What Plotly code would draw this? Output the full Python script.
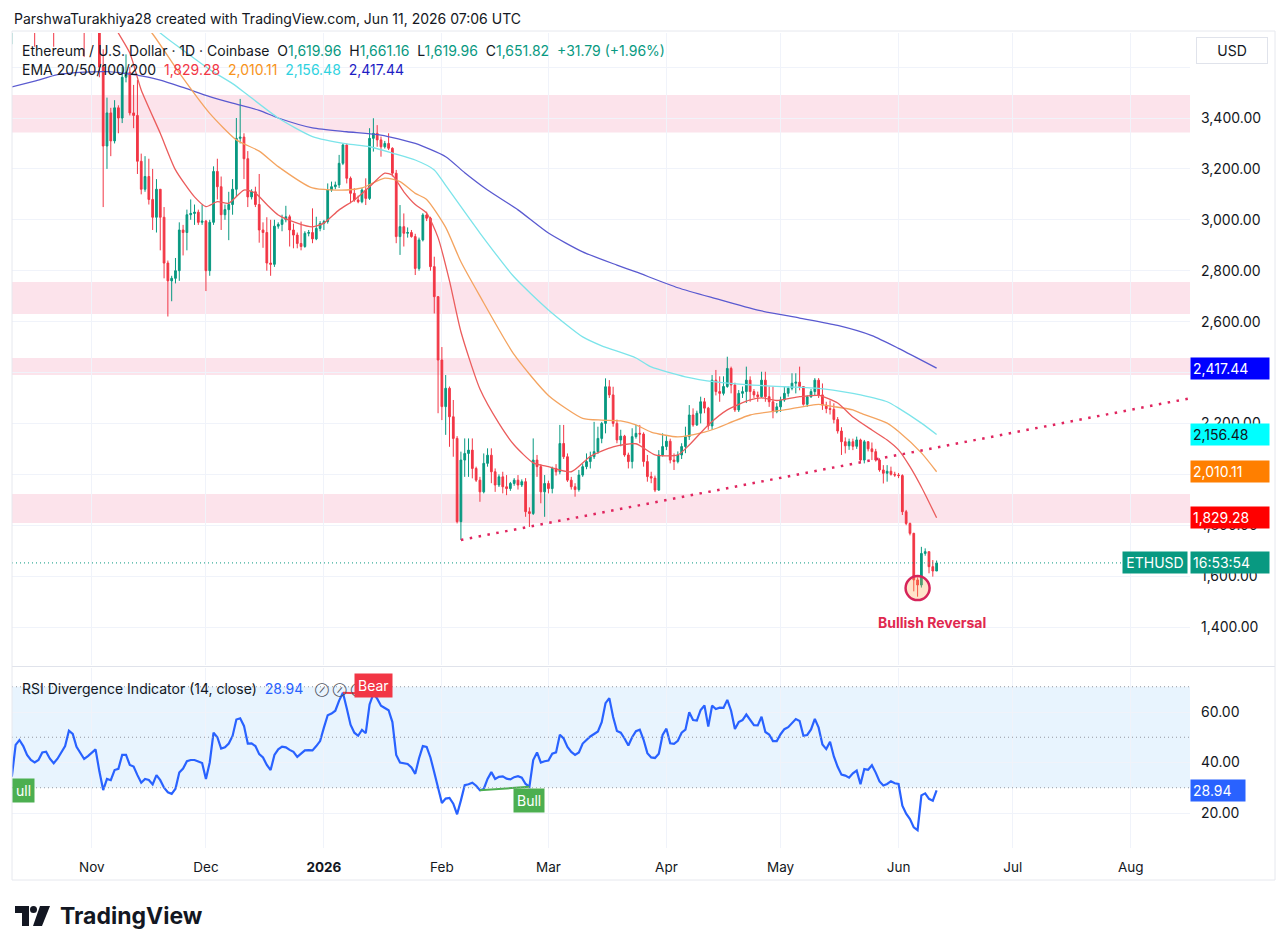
import plotly.graph_objects as go
import pandas as pd

# ---------------- data: ETH/USD daily candles (Coinbase) ----------------
first_day = "2025-10-11"
opens = [
    # Oct 11-31
    3760, 3840, 4150, 4245, 4130, 3990, 3890, 3830, 3885, 3985, 3980, 3880, 3800, 3855, 3935, 3950, 4160, 4120, 3980, 3900, 3810,
    # Nov
    3850, 3875, 3890, 3600, 3290, 3420, 3310, 3440, 3400, 3560, 3580, 3420, 3410, 3230, 3120, 3170, 3080, 3010, 3120, 3010,
    2830, 2760, 2770, 2800, 2960, 2950, 3020, 3025, 3030, 2990,
    # Dec
    2995, 2800, 2990, 3190, 3130, 3020, 3040, 3060, 3120, 3320, 3325, 3240, 3090, 3110, 3060, 2960, 2950, 2830, 2825, 2975,
    2982, 3000, 3012, 2960, 2940, 2907, 2895, 2947, 2950, 2925, 2966,
    # Jan
    2986, 2993, 3117, 3130, 3137, 3222, 3294, 3163, 3104, 3078, 3071, 3117, 3084, 3320, 3340, 3314, 3287, 3300, 3281, 3183,
    2934, 2973, 2947, 2950, 2934, 2809, 2921, 3019, 3006, 2816, 2698,
    # Feb
    2449, 2266, 2338, 2226, 2141, 1814, 2056, 2082, 2095, 2023, 1977, 1931, 2043, 2075, 2010, 1958, 1990, 1951, 1944, 1964,
    1977, 1958, 1971, 1853, 1846, 2056, 2030, 1931,
    # Mar
    1964, 1944, 2023, 2010, 2121, 2069, 1977, 1951, 1940, 1997, 2030, 2050, 2069, 2089, 2141, 2200, 2344, 2312, 2200, 2135,
    2150, 2076, 2050, 2148, 2161, 2158, 2050, 1991, 1985, 1938, 2076,
    # Apr
    2109, 2130, 2056, 2050, 2076, 2109, 2148, 2233, 2194, 2240, 2285, 2260, 2190, 2370, 2325, 2318, 2345, 2416, 2351, 2253,
    2318, 2325, 2370, 2325, 2312, 2305, 2370, 2305, 2285, 2246,
    # May
    2265, 2292, 2318, 2338, 2358, 2362, 2345, 2275, 2305, 2325, 2370, 2312, 2272, 2258, 2255, 2215, 2170, 2128, 2112, 2128,
    2110, 2135, 2056, 2128, 2100, 2089, 2056, 2017, 2004, 2012, 2000,
    # Jun 1-11
    1997, 1995, 1853, 1807, 1768, 1585, 1565, 1689, 1696, 1637, 1619.96,
]
highs = [
    3880, 4180, 4290, 4260, 4210, 4100, 3960, 3900, 4030, 4090, 4110, 3900, 3900, 3990, 3960, 4200, 4250, 4160, 4030, 3920, 3900,
    3910, 3920, 3900, 3670, 3480, 3440, 3470, 3450, 3600, 3650, 3600, 3530, 3550, 3260, 3250, 3240, 3200, 3160, 3120, 3050,
    2840, 2780, 2850, 2990, 2980, 3040, 3080, 3060, 3040, 3060,
    3000, 3000, 3210, 3240, 3170, 3060, 3110, 3160, 3400, 3475, 3340, 3270, 3120, 3130, 3180, 2990, 3010, 3000, 3000, 2990,
    3020, 3055, 3020, 2985, 2950, 2993, 2955, 2960, 3045, 3012, 2995,
    3000, 3143, 3150, 3150, 3255, 3300, 3300, 3170, 3124, 3095, 3125, 3163, 3360, 3399, 3372, 3327, 3310, 3340, 3285, 3196,
    3058, 3025, 2970, 2960, 2945, 2930, 3026, 3032, 3012, 2855, 2700,
    2500, 2390, 2345, 2292, 2150, 2089, 2141, 2141, 2141, 2030, 1990, 2082, 2102, 2102, 2023, 2000, 2010, 1997, 1970, 1985,
    1997, 1980, 1985, 1870, 2141, 2076, 2040, 1997,
    1975, 2030, 2040, 2194, 2194, 2082, 1990, 1965, 2017, 2040, 2082, 2089, 2206, 2187, 2206, 2377, 2370, 2344, 2215, 2175,
    2155, 2085, 2181, 2194, 2194, 2165, 2076, 2010, 1995, 2095, 2161,
    2150, 2140, 2082, 2090, 2122, 2187, 2272, 2259, 2250, 2305, 2300, 2265, 2390, 2410, 2385, 2385, 2462, 2423, 2360, 2331,
    2345, 2423, 2385, 2335, 2325, 2403, 2403, 2345, 2345, 2280,
    2305, 2345, 2345, 2397, 2397, 2423, 2345, 2310, 2335, 2378, 2378, 2357, 2285, 2290, 2279, 2225, 2185, 2145, 2140, 2140,
    2148, 2140, 2135, 2130, 2125, 2100, 2063, 2036, 2036, 2030, 2010,
    2005, 2000, 1860, 1810, 1770, 1595, 1715, 1709, 1696, 1663, 1661.16,
]
lows = [
    3690, 3800, 4050, 3900, 3940, 3880, 3680, 3820, 3850, 3900, 3780, 3680, 3780, 3840, 3890, 3940, 4100, 3930, 3870, 3640, 3760,
    3840, 3850, 3560, 3050, 3200, 3250, 3300, 3340, 3380, 3540, 3410, 3360, 3180, 3100, 3110, 3060, 2960, 2950, 2880, 2770,
    2620, 2680, 2750, 2760, 2860, 2880, 3000, 2980, 2980, 2980,
    2720, 2780, 2980, 3080, 2960, 3000, 2920, 3020, 3090, 3300, 3160, 3050, 3080, 3050, 2910, 2890, 2800, 2780, 2815, 2965,
    2955, 2990, 2895, 2888, 2888, 2880, 2890, 2935, 2908, 2920, 2955,
    2960, 2985, 3110, 3120, 3125, 3215, 3143, 3065, 3071, 3065, 3065, 3058, 3078, 3268, 3287, 3248, 3280, 3274, 3170, 2908,
    2862, 2895, 2930, 2930, 2783, 2800, 2915, 2995, 2800, 2632, 2240,
    2213, 2155, 2108, 2069, 1807, 1742, 1990, 1990, 1984, 1970, 1892, 1925, 2030, 1965, 1931, 1950, 1925, 1918, 1935, 1955,
    1940, 1950, 1833, 1793, 1840, 1990, 1886, 1833,
    1925, 1925, 1995, 2000, 2060, 1970, 1940, 1912, 1932, 1990, 2020, 2023, 2060, 2080, 2122, 2161, 2300, 2187, 2122, 2110,
    2069, 2023, 2023, 2140, 2122, 2030, 1971, 1965, 1930, 1935, 2070,
    2095, 2043, 2017, 2043, 2060, 2083, 2135, 2187, 2190, 2200, 2240, 2175, 2175, 2310, 2285, 2310, 2340, 2318, 2245, 2245,
    2300, 2280, 2285, 2300, 2285, 2300, 2285, 2265, 2220, 2240,
    2245, 2285, 2305, 2330, 2318, 2330, 2270, 2265, 2300, 2310, 2300, 2253, 2240, 2235, 2200, 2160, 2076, 2082, 2096, 2095,
    2100, 2050, 2043, 2090, 2056, 2050, 2010, 1964, 1971, 1995, 1990,
    1985, 1840, 1800, 1760, 1540, 1519, 1555, 1680, 1611, 1598, 1619.96,
]
closes = [
    3840, 4150, 4245, 4130, 3990, 3890, 3830, 3885, 3985, 3980, 3880, 3800, 3855, 3935, 3950, 4160, 4120, 3980, 3900, 3810, 3850,
    3875, 3890, 3600, 3290, 3420, 3310, 3440, 3400, 3560, 3580, 3420, 3410, 3230, 3120, 3170, 3080, 3010, 3120, 3010, 2830,
    2760, 2770, 2800, 2960, 2950, 3020, 3025, 3030, 2990, 2995,
    2800, 2990, 3190, 3130, 3020, 3040, 3060, 3120, 3320, 3325, 3240, 3090, 3110, 3060, 2960, 2950, 2830, 2825, 2975, 2982,
    3000, 3012, 2960, 2940, 2907, 2895, 2947, 2950, 2925, 2966, 2986,
    2993, 3117, 3130, 3137, 3222, 3294, 3163, 3104, 3078, 3071, 3117, 3084, 3320, 3340, 3314, 3287, 3300, 3281, 3183, 2934,
    2973, 2947, 2950, 2934, 2809, 2921, 3019, 3006, 2816, 2698, 2449,
    2266, 2338, 2226, 2141, 1814, 2056, 2082, 2095, 2023, 1977, 1931, 2043, 2075, 2010, 1958, 1990, 1951, 1944, 1964, 1977,
    1958, 1971, 1853, 1846, 2056, 2030, 1931, 1964,
    1944, 2023, 2010, 2121, 2069, 1977, 1951, 1940, 1997, 2030, 2050, 2069, 2089, 2141, 2200, 2344, 2312, 2200, 2135, 2150,
    2076, 2050, 2148, 2161, 2158, 2050, 1991, 1985, 1938, 2076, 2109,
    2130, 2056, 2050, 2076, 2109, 2148, 2233, 2194, 2240, 2285, 2260, 2190, 2370, 2325, 2318, 2345, 2416, 2351, 2253, 2318,
    2325, 2370, 2325, 2312, 2305, 2370, 2305, 2285, 2246, 2265,
    2292, 2318, 2338, 2358, 2362, 2345, 2275, 2305, 2325, 2370, 2312, 2272, 2258, 2255, 2215, 2170, 2128, 2112, 2128, 2110,
    2135, 2056, 2128, 2100, 2089, 2056, 2017, 2004, 2012, 2000, 1997,
    1995, 1853, 1807, 1768, 1585, 1565, 1689, 1696, 1637, 1620.03, 1651.82,
]

# ---------------- RSI (14, close), one value per day from first_day ----------------
rsi_vals = [
    34.4, 47.0, 48.9, 46.5, 43.0, 41.0, 40.0, 41.0, 44.0, 44.3, 41.5, 39.7, 41.5, 44.3, 46.5, 52.6, 51.3, 46.2, 44.0, 41.4, 42.5,
    43.7, 45.2, 36.5, 29.1, 33.5, 33.0, 37.0, 37.5, 43.0, 43.0, 39.0, 38.4, 35.0, 32.0, 33.5, 33.1, 31.3, 35.0, 33.0, 30.0,
    28.2, 27.6, 29.6, 36.0, 37.6, 40.5, 41.0, 41.0, 40.4, 39.8,
    33.5, 40.0, 51.8, 50.0, 45.5, 46.0, 47.5, 50.5, 57.0, 57.5, 54.5, 47.5, 47.6, 46.5, 43.3, 42.0, 39.0, 37.0, 43.0, 45.2,
    46.3, 46.0, 45.0, 44.2, 42.2, 43.6, 44.8, 44.9, 44.8, 46.5, 48.5,
    53.8, 58.7, 59.4, 60.5, 64.5, 67.6, 61.5, 55.0, 51.8, 50.6, 52.9, 51.6, 63.0, 67.2, 65.3, 62.5, 61.6, 60.7, 56.0, 43.0,
    40.0, 39.7, 39.4, 38.0, 35.5, 41.7, 46.5, 46.2, 42.0, 36.0, 30.0,
    24.0, 25.7, 26.0, 23.7, 19.5, 25.0, 31.0, 31.4, 32.0, 30.8, 29.0, 29.5, 33.5, 36.2, 33.5, 34.3, 34.5, 33.6, 33.3, 34.2,
    34.6, 34.0, 31.5, 30.4, 41.0, 44.0, 40.0, 40.5,
    40.8, 43.5, 44.0, 51.0, 49.5, 46.2, 44.2, 43.0, 44.0, 47.5, 49.1, 50.3, 51.3, 52.3, 56.0, 63.5, 65.5, 58.0, 52.5, 51.8,
    49.5, 46.7, 50.0, 52.4, 53.0, 49.0, 43.7, 42.0, 41.8, 43.5, 50.9,
    53.4, 47.6, 47.4, 48.6, 51.8, 53.0, 59.9, 56.8, 56.6, 60.8, 62.6, 54.2, 62.5, 61.2, 61.7, 61.6, 64.8, 60.5, 53.3, 56.0,
    56.8, 59.0, 56.7, 54.8, 54.7, 58.1, 52.1, 51.1, 48.5, 48.5,
    51.2, 53.2, 54.0, 55.4, 57.2, 56.4, 50.6, 50.9, 53.1, 57.3, 53.8, 47.1, 45.3, 48.2, 42.4, 38.3, 35.2, 34.8, 34.0, 35.7,
    36.8, 31.4, 37.4, 37.1, 38.9, 36.0, 32.5, 30.9, 31.5, 32.6, 31.8,
    31.5, 22.9, 19.7, 17.6, 14.3, 13.2, 27.0, 27.8, 25.6, 24.9, 28.94,
]

# ---------------- EMA lines ----------------
ema20_dates = ["2025-10-28", "2025-11-03", "2025-11-07", "2025-11-11", "2025-11-14", "2025-11-19", "2025-11-23",
               "2025-11-28", "2025-12-01", "2025-12-04", "2025-12-07", "2025-12-11", "2025-12-14", "2025-12-17",
               "2025-12-20", "2025-12-25", "2025-12-29", "2026-01-01", "2026-01-05", "2026-01-09", "2026-01-13",
               "2026-01-17", "2026-01-19", "2026-01-22", "2026-01-25", "2026-01-28", "2026-01-31", "2026-02-03",
               "2026-02-06", "2026-02-11", "2026-02-16", "2026-02-20", "2026-02-25", "2026-03-01", "2026-03-07",
               "2026-03-12", "2026-03-18", "2026-03-24", "2026-03-29", "2026-04-04", "2026-04-07", "2026-04-12",
               "2026-04-17", "2026-04-23", "2026-04-26", "2026-04-30", "2026-05-06", "2026-05-11", "2026-05-16",
               "2026-05-20", "2026-05-25", "2026-05-29", "2026-06-01", "2026-06-04", "2026-06-07", "2026-06-11"]
ema20_vals = [3960, 3905, 3760, 3655, 3510, 3340, 3196, 3090, 3052, 3071, 3065, 3117, 3105, 3060, 3019, 2987, 2972,
              2987, 3039, 3078, 3130, 3183, 3175, 3110, 3060, 3026, 2930, 2760, 2560, 2335, 2200, 2115, 2045, 2030,
              2010, 2070, 2108, 2120, 2076, 2076, 2115, 2194, 2253, 2292, 2300, 2290, 2305, 2310, 2280, 2225, 2174,
              2135, 2096, 2030, 1950, 1829.28]

ema50_dates = ["2025-11-01", "2025-11-10", "2025-11-17", "2025-11-24", "2025-12-02", "2025-12-09", "2025-12-15",
               "2025-12-20", "2025-12-29", "2026-01-07", "2026-01-11", "2026-01-17", "2026-01-21", "2026-01-25",
               "2026-01-28", "2026-02-02", "2026-02-06", "2026-02-11", "2026-02-20", "2026-03-01", "2026-03-10",
               "2026-03-15", "2026-03-20", "2026-03-24", "2026-03-28", "2026-04-04", "2026-04-11", "2026-04-14",
               "2026-04-23", "2026-05-02", "2026-05-11", "2026-05-15", "2026-05-20", "2026-05-22", "2026-05-29",
               "2026-06-01", "2026-06-07", "2026-06-11"]
ema50_vals = [3960, 3850, 3730, 3577, 3418, 3314, 3270, 3209, 3125, 3117, 3125, 3164, 3150, 3104, 3080, 2970, 2835,
              2700, 2470, 2310, 2220, 2213, 2210, 2194, 2166, 2147, 2166, 2180, 2233, 2253, 2275, 2266, 2253, 2240,
              2201, 2168, 2084, 2010.11]

ema100_dates = ["2025-11-05", "2025-11-12", "2025-11-20", "2025-11-26", "2025-12-02", "2025-12-08", "2025-12-12",
                "2025-12-20", "2025-12-29", "2026-01-07", "2026-01-13", "2026-01-19", "2026-01-25", "2026-01-30",
                "2026-02-02", "2026-02-11", "2026-02-20", "2026-03-01", "2026-03-10", "2026-03-15", "2026-03-24",
                "2026-03-28", "2026-04-06", "2026-04-14", "2026-04-23", "2026-05-02", "2026-05-11", "2026-05-20",
                "2026-05-22", "2026-05-29", "2026-06-01", "2026-06-07", "2026-06-11"]
ema100_vals = [3900, 3820, 3722, 3655, 3590, 3535, 3490, 3400, 3327, 3298, 3287, 3262, 3235, 3196, 3135, 2948, 2775,
               2646, 2540, 2505, 2457, 2422, 2383, 2363, 2351, 2344, 2338, 2318, 2312, 2285, 2260, 2201, 2156.48]

ema200_dates = ["2025-10-10", "2025-10-17", "2025-10-23", "2025-10-30", "2025-11-05", "2025-11-12", "2025-11-19",
                "2025-11-25", "2025-12-02", "2025-12-08", "2025-12-15", "2025-12-20", "2025-12-29", "2026-01-07",
                "2026-01-16", "2026-01-25", "2026-02-02", "2026-02-07", "2026-02-13", "2026-02-21", "2026-03-01",
                "2026-03-10", "2026-03-19", "2026-03-24", "2026-04-04", "2026-04-14", "2026-04-25", "2026-05-06",
                "2026-05-16", "2026-05-25", "2026-06-01", "2026-06-11"]
ema200_vals = [3518, 3545, 3570, 3580, 3582, 3570, 3549, 3520, 3484, 3458, 3430, 3400, 3361, 3346, 3333, 3300, 3248,
               3185, 3117, 3039, 2948, 2874, 2822, 2795, 2733, 2690, 2645, 2614, 2585, 2545, 2495, 2417.44]

# ---------------- drawings ----------------
zone_low = [3343, 2630, 2390, 1809]
zone_high = [3490, 2756, 2457, 1923]
trend_dates = ["2026-02-06", "2026-08-17"]
trend_vals = [1742, 2300]
bull_div_dates = ["2026-02-11", "2026-02-24"]
bear_div_dates = ["2026-01-06", "2026-01-14"]
reversal_date = "2026-06-06"
reversal_price = 1553

price_ticks = [1400, 1600, 1800, 2000, 2200, 2400, 2600, 2800, 3000, 3200, 3400, 3600]
hidden_price_ticks = [2000, 2400, 3600]   # covered by value badges / the USD button in the reference
rsi_ticks = [20, 40, 60]
month_ticks = ["2025-11-01", "2025-12-01", "2026-01-01", "2026-02-01", "2026-03-01", "2026-04-01",
               "2026-05-01", "2026-06-01", "2026-07-01", "2026-08-01"]
month_labels = ["Nov", "Dec", "<b>2026</b>", "Feb", "Mar", "Apr", "May", "Jun", "Jul", "Aug"]

# ---------------- styling / geometry ----------------
W, H = 1287, 952
PL, PR, PT, PB = 12, 1190, 33, 848
MAIN_BOTTOM, RSI_TOP = 665, 668
FONT = "Inter, Roboto, 'DejaVu Sans', sans-serif"
TXT = "#131722"
GREEN, RED = "#089981", "#f23645"
C20, C50, C100, C200 = "#eb5c5c", "#f4a460", "#7ce4ea", "#5a5ad0"
FS = 14


def fx(x):
    return (x - PL) / (PR - PL)


def fy(y):
    return (PB - y) / (PB - PT)


assert len(opens) == len(highs) == len(lows) == len(closes) == len(rsi_vals)
dates = pd.date_range(first_day, periods=len(closes), freq="D")
rsi_s = pd.Series(rsi_vals, index=dates)

fig = go.Figure()

fig.add_trace(go.Candlestick(
    x=dates, open=opens, high=highs, low=lows, close=closes,
    increasing=dict(line=dict(color=GREEN, width=1), fillcolor=GREEN),
    decreasing=dict(line=dict(color=RED, width=1), fillcolor=RED),
    whiskerwidth=0, xaxis="x", yaxis="y", hoverinfo="skip"))

for d, v, c in [(ema200_dates, ema200_vals, C200), (ema100_dates, ema100_vals, C100),
                (ema50_dates, ema50_vals, C50), (ema20_dates, ema20_vals, C20)]:
    fig.add_trace(go.Scatter(x=pd.to_datetime(d), y=v, mode="lines",
                             line=dict(color=c, width=1.3, shape="spline", smoothing=0.6),
                             xaxis="x", yaxis="y", hoverinfo="skip"))

# trend line
fig.add_trace(go.Scatter(x=pd.to_datetime(trend_dates), y=trend_vals, mode="lines",
                         line=dict(color="#e0245e", width=2.5, dash="2.5px,6.5px"),
                         xaxis="x", yaxis="y", hoverinfo="skip"))

# RSI
fig.add_trace(go.Scatter(x=dates, y=rsi_vals, mode="lines", line=dict(color="#2962ff", width=2.2),
                         xaxis="x", yaxis="y2", hoverinfo="skip"))
bd = pd.to_datetime(bull_div_dates)
fig.add_trace(go.Scatter(x=bd, y=[rsi_s[d] for d in bd], mode="lines", line=dict(color="#4caf50", width=2),
                         xaxis="x", yaxis="y2", hoverinfo="skip"))
brd = pd.to_datetime(bear_div_dates)
fig.add_trace(go.Scatter(x=brd, y=[rsi_s[d] for d in brd], mode="lines", line=dict(color=RED, width=2),
                         xaxis="x", yaxis="y2", hoverinfo="skip"))

shapes = []
for lo, hi in zip(zone_low, zone_high):
    shapes.append(dict(type="rect", xref="paper", yref="y", x0=0, x1=1, y0=lo, y1=hi,
                       fillcolor="rgba(236,64,122,0.15)", line=dict(width=0), layer="below"))
shapes.append(dict(type="rect", xref="paper", yref="y2", x0=0, x1=1, y0=30, y1=70,
                   fillcolor="rgba(33,150,243,0.10)", line=dict(width=0), layer="below"))
for lvl in (30, 50, 70):
    shapes.append(dict(type="line", xref="paper", yref="y2", x0=0, x1=1, y0=lvl, y1=lvl,
                       line=dict(color="#9598a1", width=1, dash="1px,3px")))
shapes.append(dict(type="line", xref="paper", yref="y", x0=0, x1=fx(1122), y0=closes[-1], y1=closes[-1],
                   line=dict(color=GREEN, width=1, dash="1px,3px")))
shapes.append(dict(type="circle", xref="x", yref="y", xsizemode="pixel", ysizemode="pixel",
                   xanchor=reversal_date, yanchor=reversal_price, x0=-12, x1=12, y0=-12, y1=12,
                   fillcolor="rgba(255,167,80,0.30)", line=dict(color="#d6245a", width=2.5)))
# pane separator and frame
shapes.append(dict(type="line", xref="paper", yref="paper", x0=fx(12), x1=fx(1275), y0=fy(666.5), y1=fy(666.5),
                   line=dict(color="#e0e3eb", width=1)))
shapes.append(dict(type="rect", xref="paper", yref="paper", x0=fx(12), x1=fx(1275), y0=fy(880), y1=fy(31),
                   line=dict(color="#e6e8ee", width=1), fillcolor="rgba(0,0,0,0)"))
# TradingView logo
shapes.append(dict(type="path", xref="paper", yref="paper",
                   path=f"M{fx(15)},{fy(906)} L{fx(29)},{fy(906)} L{fx(29)},{fy(926)} L{fx(22)},{fy(926)} "
                        f"L{fx(22)},{fy(913)} L{fx(15)},{fy(913)} Z",
                   fillcolor="#131722", line=dict(width=0)))
shapes.append(dict(type="circle", xref="paper", yref="paper", x0=fx(30), x1=fx(37), y0=fy(913), y1=fy(906),
                   fillcolor="#131722", line=dict(width=0)))
shapes.append(dict(type="path", xref="paper", yref="paper",
                   path=f"M{fx(40)},{fy(906)} L{fx(50)},{fy(906)} L{fx(42)},{fy(926)} L{fx(33)},{fy(926)} Z",
                   fillcolor="#131722", line=dict(width=0)))

G = lambda s: f"<span style='color:{GREEN}'>{s}</span>"
S = "\u00a0\u00a0"
chg = closes[-1] - closes[-2]
pct = chg / closes[-2] * 100
legend1 = (f"Ethereum / U.S. Dollar · 1D · Coinbase{S}O{G(f'{opens[-1]:,.2f}')}{S}H{G(f'{highs[-1]:,.2f}')}"
           f"{S}L{G(f'{lows[-1]:,.2f}')}{S}C{G(f'{closes[-1]:,.2f}')}{S}{G(f'{chg:+.2f} ({pct:+.2f}%)')}")
legend2 = (f"EMA 20/50/100/200{S}<span style='color:#f23645'>{ema20_vals[-1]:,.2f}</span>"
           f"{S}<span style='color:#f7931a'>{ema50_vals[-1]:,.2f}</span>"
           f"{S}<span style='color:#2fd2e0'>{ema100_vals[-1]:,.2f}</span>"
           f"{S}<span style='color:#1d1dc4'>{ema200_vals[-1]:,.2f}</span>")
SYM = "<span style='color:#50535e;font-size:10px'>⊘</span>"
N1 = "\u00a0"
legend3 = (f"RSI Divergence Indicator (14, close){S}<span style='color:#2962ff'>{rsi_vals[-1]:.2f}</span>"
           f"{S}{N1}{SYM}{N1}{SYM}{N1}{SYM}{N1}{SYM}")

ann = []


def txt(xp, yp, text, size=FS, color=TXT, anchor="left", **kw):
    ann.append(dict(x=fx(xp), y=fy(yp), xref="paper", yref="paper", text=text, showarrow=False,
                    xanchor=anchor, yanchor="middle", font=dict(size=size, color=color, family=FONT), **kw))


txt(12, 18, "ParshwaTurakhiya28 created with TradingView.com, Jun 11, 2026 07:06 UTC", size=14)
txt(20, 51, legend1)
txt(20, 70, legend2)
txt(20, 688, legend3)
ann.append(dict(x=fx(58), y=fy(916), xref="paper", yref="paper", text="<b>TradingView</b>", showarrow=False,
                xanchor="left", yanchor="middle", font=dict(size=23, color="#131722", family="Inter, Roboto, sans-serif")))


# axis value badges
def badge(val, bg, fg, yref="y", label=None, width=74, xp=1190):
    ann.append(dict(x=fx(xp), y=val, xref="paper", yref=yref, text=label or f"{val:,.2f}", showarrow=False,
                    xanchor="left", yanchor="middle", bgcolor=bg, borderpad=2, width=width, align="left",
                    font=dict(size=FS, color=fg, family=FONT)))


badge(ema200_vals[-1], "#0000ff", "white")
badge(ema100_vals[-1], "#00ffff", TXT)
badge(ema50_vals[-1], "#ff7f00", "white")
badge(ema20_vals[-1], "#ff0000", "white")
badge(closes[-1], GREEN, "white", label="16:53:54")
ann.append(dict(x=fx(1188), y=closes[-1], xref="paper", yref="y", text="ETHUSD", showarrow=False,
                xanchor="right", yanchor="middle", bgcolor=GREEN, borderpad=2, width=60,
                font=dict(size=FS, color="white", family=FONT)))
badge(rsi_vals[-1], "#2962ff", "white", yref="y2", width=50)

# USD box
ann.append(dict(x=fx(1232), y=fy(51), xref="paper", yref="paper", text="USD", showarrow=False,
                xanchor="center", yanchor="middle", bgcolor="white", bordercolor="#e0e3eb", borderwidth=1,
                borderpad=4, width=62, font=dict(size=FS, color=TXT, family=FONT)))

# divergence labels
ann.append(dict(x=bd[1], y=rsi_s[bd[1]], xref="x", yref="y2", text="Bull", showarrow=False,
                xanchor="center", yanchor="top", yshift=-1, bgcolor="#4caf50", borderpad=3,
                font=dict(size=FS, color="white", family=FONT)))
ann.append(dict(x=brd[1], y=rsi_s[brd[1]], xref="x", yref="y2", text="Bear", showarrow=False,
                xanchor="center", yanchor="bottom", yshift=-4, bgcolor=RED, borderpad=3,
                font=dict(size=FS, color="white", family=FONT)))
ann.append(dict(x=fx(12), y=29.1, xref="paper", yref="y2", text="ull", showarrow=False,
                xanchor="left", yanchor="middle", bgcolor="#4caf50", borderpad=3,
                font=dict(size=FS, color="white", family=FONT)))

# Bullish reversal label
ann.append(dict(x=pd.Timestamp("2026-06-09 16:00"), y=1416, xref="x", yref="y", text="<b>Bullish Reversal</b>",
                showarrow=False, xanchor="center", yanchor="middle",
                font=dict(size=14, color="#e0284f", family=FONT)))

# axis ranges from pixel geometry of the reference
px_per_usd = 0.2545
y_top = 3400 + (118 - PT) / px_per_usd
y_bot = 3400 - (MAIN_BOTTOM - 118) / px_per_usd
px_per_rsi = 2.525
r_top = 60 + (712 - RSI_TOP) / px_per_rsi
r_bot = 60 - (PB - 712) / px_per_rsi

fig.update_layout(
    width=W, height=H, margin=dict(l=PL, r=W - PR, t=PT, b=H - PB),
    paper_bgcolor="white", plot_bgcolor="white", showlegend=False,
    font=dict(family=FONT, size=13, color=TXT),
    xaxis=dict(type="date", range=[pd.Timestamp("2025-10-11 01:00"), pd.Timestamp("2026-08-16 14:00")],
               anchor="y2", tickvals=pd.to_datetime(month_ticks), ticktext=month_labels,
               showgrid=True, gridcolor="#f0f3fa", gridwidth=1, ticks="", showline=False, zeroline=False,
               rangeslider=dict(visible=False), tickfont=dict(size=13.5, color=TXT), ticklabelstandoff=9),
    yaxis=dict(domain=[fy(MAIN_BOTTOM), 1], range=[y_bot, y_top], side="right", anchor="x",
               tickvals=price_ticks,
               ticktext=["" if v in hidden_price_ticks else f"{v:,.2f}" for v in price_ticks],
               showgrid=True, gridcolor="#f0f3fa", zeroline=False, ticks="", showline=False,
               tickfont=dict(size=FS, color=TXT), ticklabelstandoff=10),
    yaxis2=dict(domain=[0, fy(RSI_TOP)], range=[r_bot, r_top], side="right", anchor="x",
                tickvals=rsi_ticks, ticktext=[f"{v:.2f}" for v in rsi_ticks],
                showgrid=True, gridcolor="#f0f3fa", zeroline=False, ticks="", showline=False,
                tickfont=dict(size=FS, color=TXT), ticklabelstandoff=10),
    shapes=shapes, annotations=ann, boxgap=0.35,
)

fig.write_html("out.html")
